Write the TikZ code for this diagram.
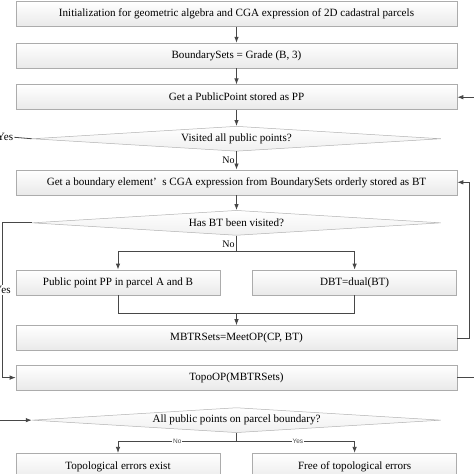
\documentclass[tikz,border=0pt]{standalone}
\usepackage{fontspec}
\setmainfont{Liberation Serif}
\setsansfont{Liberation Sans}
\usetikzlibrary{positioning,shapes.geometric,arrows.meta}

\tikzset{
  procbox/.style={draw=gray!65, line width=0.6pt, top color=white, bottom color=gray!17,
    minimum height=25pt, inner sep=0pt, font=\fontsize{11.1}{13}\selectfont},
  widebox/.style={procbox, minimum width=441pt},
  halfbox/.style={procbox, minimum width=204pt},
  decision/.style={diamond, draw=gray!60, line width=0.5pt, top color=white, bottom color=gray!12,
    aspect=17, minimum width=409pt, minimum height=25pt, inner sep=0pt,
    font=\fontsize{11.1}{13}\selectfont},
  conn/.style={draw=black!72, line width=0.8pt},
  flow/.style={conn, -{Latex[length=6pt,width=4.5pt]}},
  branchlabel/.style={font=\fontsize{10}{12}\selectfont, inner sep=1.5pt},
  yeslabel/.style={fill=white, inner sep=1pt, font=\fontsize{11.1}{13}\selectfont},
  smalllabel/.style={fill=white, inner sep=1pt, text=black!70, font=\sffamily\fontsize{6.5}{7}\selectfont},
}

\begin{document}
\begin{tikzpicture}[x=1pt,y=1pt]
  \useasboundingbox (0,0) rectangle (474,-474);
  %% main column
  \node[widebox] (init) at (236.5,-14) {Initialization for geometric algebra and CGA expression of 2D cadastral parcels};
  \node[widebox, below=16pt of init] (bsets) {BoundarySets = Grade (B, 3)};
  \node[widebox, below=16pt of bsets] (getpp) {Get a PublicPoint stored as PP};
  \node[decision, below=16pt of getpp] (visall) {Visited all public points?};
  \node[widebox, below=18pt of visall] (getbt) {Get a boundary element’\ \ s CGA expression from BoundarySets orderly stored as BT};
  \node[decision, below=15pt of getbt] (hasbt) {Has BT been visited?};
  \node[halfbox, below=34pt of hasbt, xshift=-118.5pt] (pubpt) {Public point PP in parcel A and B};
  \node[halfbox, right=32pt of pubpt] (dualbt) {DBT=dual(BT)};
  \node[widebox, below=30pt of pubpt, xshift=118.5pt] (meetop) {MBTRSets=MeetOP(CP, BT)};
  \node[widebox, below=14pt of meetop] (topo) {TopoOP(MBTRSets)};
  \node[decision, below=17pt of topo] (allpub) {All public points on parcel boundary?};
  \node[halfbox, minimum height=28pt, below=20pt of allpub, xshift=-118.5pt] (toperr) {Topological errors exist};
  \node[halfbox, minimum height=28pt, right=32pt of toperr] (topfree) {Free of topological errors};

  %% straight arrows
  \draw[flow] (init) -- (bsets);
  \draw[flow] (bsets) -- (getpp);
  \draw[flow] (getpp) -- (visall);
  \draw[flow] (visall) -- node[branchlabel, left]{No} (getbt);
  \draw[flow] (getbt) -- (hasbt);

  %% branch after Has BT
  \coordinate (hsplit) at ([yshift=-16pt]hasbt.south);
  \draw[conn] (hasbt.south) -- node[branchlabel, left, pos=0.55]{No} (hsplit);
  \draw[flow] (hsplit) -| (pubpt.north);
  \draw[flow] (hsplit) -| (dualbt.north);
  \coordinate (hjoin) at ([yshift=12pt]meetop.north);
  \draw[conn] (pubpt.south) |- (hjoin) -| (dualbt.south);
  \draw[flow] (hjoin) -- (meetop.north);

  %% Yes exits on the left
  \node[yeslabel] (yesvis) at (5,-136.5) {Yes};
  \draw[conn] (visall.west) -- (yesvis);
  \node[yeslabel] (yesbt) at (2.5,-290) {Yes};
  \draw[conn] (hasbt.west) -| (yesbt);
  \draw[flow] (yesbt) |- (topo.west);

  %% loops on the right
  \coordinate (inpp) at ([xshift=24pt]getpp.east);
  \draw[flow] (inpp) -- (getpp.east);
  \draw[flow] (meetop.east) -- ++(12pt,0) |- (getbt.east);
  \coordinate (outtopo) at ([xshift=24pt]topo.east);
  \draw[conn] (topo.east) -- (outtopo);

  %% last decision
  \coordinate (inall) at ([xshift=-40pt]allpub.west);
  \draw[flow] (inall) -- (allpub.west);
  \coordinate (asplit) at ([yshift=-8pt]allpub.south);
  \draw[conn] (allpub.south) -- (asplit);
  \draw[flow] (asplit) -- node[smalllabel, pos=0.5]{No} (asplit -| toperr.north) -- (toperr.north);
  \draw[flow] (asplit) -- node[smalllabel, pos=0.52]{Yes} (asplit -| topfree.north) -- (topfree.north);
\end{tikzpicture}
\end{document}
